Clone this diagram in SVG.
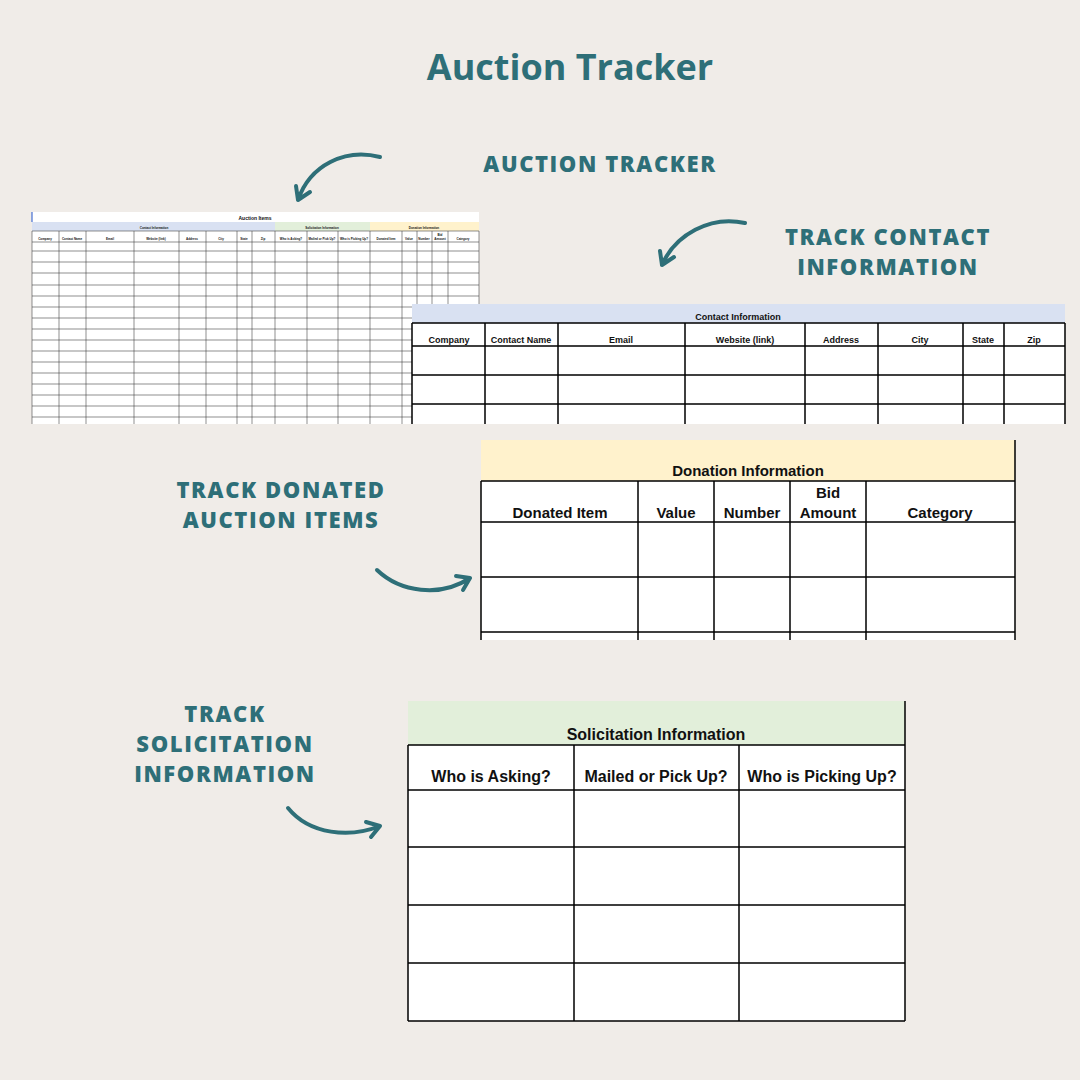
<svg xmlns="http://www.w3.org/2000/svg" width="1080" height="1080" viewBox="0 0 1080 1080">
<style>
.lbl{font-family:"Open Sans","Liberation Sans",sans-serif;font-weight:800;fill:#2e6f78;font-size:22px;letter-spacing:1.6px;text-anchor:middle}
.arr{fill:none;stroke:#2e6f78;stroke-width:4;stroke-linecap:round;stroke-linejoin:round}
.g{stroke:#000;stroke-width:1.5;fill:none}
.gs{stroke:#444;stroke-width:0.6;fill:none}
.h{font-family:"Liberation Sans",Arial,sans-serif;font-weight:bold;fill:#111;text-anchor:middle}
</style>
<rect width="1080" height="1080" fill="#f0ece8"/>
<text x="570" y="80" font-family="Open Sans,Liberation Sans,sans-serif" font-weight="bold" font-size="36" fill="#2e6f78" text-anchor="middle">Auction Tracker</text>

<g id="labels">
<text class="lbl" x="600" y="172">AUCTION TRACKER</text>
<text class="lbl" x="888" y="245">TRACK CONTACT</text>
<text class="lbl" x="888" y="275">INFORMATION</text>
<text class="lbl" x="281" y="498">TRACK DONATED</text>
<text class="lbl" x="281" y="528">AUCTION ITEMS</text>
<text class="lbl" x="225" y="722">TRACK</text>
<text class="lbl" x="225" y="752">SOLICITATION</text>
<text class="lbl" x="225" y="782">INFORMATION</text>
</g>

<g id="connectors">
<path class="arr" d="M380,157 C345,148 310,165 298,200 M298,200 L296,186 M298,200 L310,192"/>
<path class="arr" d="M745,223 C710,215 675,235 662,265 M662,265 L660,251 M662,265 L674,257"/>
<path class="arr" d="M377,570 C400,592 440,598 470,578 M470,578 L456,576 M470,578 L463,590"/>
<path class="arr" d="M288,808 C310,835 350,838 380,826 M380,826 L366,822 M380,826 L371,837"/>
</g>

<g id="sheet-all">
<rect x="32" y="212" width="447" height="212" fill="#fff"/>
<rect x="32" y="222" width="243" height="9" fill="#d9e1f2"/>
<rect x="275" y="222" width="95" height="9" fill="#e2efda"/>
<rect x="370" y="222" width="109" height="9" fill="#fff2cc"/>
<line x1="32" y1="212" x2="32" y2="222" stroke="#2255cc" stroke-width="1"/>
<text class="h" x="255" y="220" font-size="5" font-weight="normal">Auction Items</text>
<g font-size="3" class="h" font-weight="normal">
<text x="154" y="229">Contact Information</text><text x="322" y="229">Solicitation Information</text><text x="424" y="229">Donation Information</text>
<text x="45" y="240">Company</text><text x="72" y="240">Contact Name</text><text x="110" y="240">Email</text><text x="156" y="240">Website (link)</text><text x="192" y="240">Address</text><text x="221" y="240">City</text><text x="244" y="240">State</text><text x="263" y="240">Zip</text><text x="291" y="240">Who is Asking?</text><text x="322" y="240">Mailed or Pick Up?</text><text x="354" y="240">Who is Picking Up?</text><text x="386" y="240">Donated Item</text><text x="409" y="240">Value</text><text x="424" y="240">Number</text><text x="440" y="236">Bid</text><text x="440" y="240">Amount</text><text x="463" y="240">Category</text>
</g>
<g class="gs">
<path d="M32,231H479M32,242H479M32,251H479M32,262H479M32,273H479M32,285H479M32,296H479M32,307H479M32,318H479M32,329H479M32,340H479M32,351H479M32,362H479M32,373H479M32,384H479M32,395H479M32,406H479M32,417H479"/>
<path d="M32,231V424M59,231V424M86,231V424M134,231V424M179,231V424M206,231V424M237,231V424M252,231V424M275,231V424M307,231V424M338,231V424M370,231V424M402,231V424M417,231V424M432,231V424M448,231V424M479,231V424"/>
</g>
</g>

<g id="sheet-contact">
<rect x="412" y="304" width="653" height="120" fill="#fff"/>
<rect x="412" y="304" width="653" height="19" fill="#d9e1f2"/>
<text class="h" x="738" y="320" font-size="9">Contact Information</text>
<g class="h" font-size="9">
<text x="449" y="343">Company</text><text x="521" y="343">Contact Name</text><text x="621" y="343">Email</text><text x="745" y="343">Website (link)</text><text x="841" y="343">Address</text><text x="920" y="343">City</text><text x="983" y="343">State</text><text x="1034" y="343">Zip</text>
</g>
<g class="g">
<path d="M412,323H1065M412,346H1065M412,375H1065M412,404H1065"/>
<path d="M412,323V424M485,323V424M558,323V424M685,323V424M805,323V424M878,323V424M963,323V424M1004,323V424M1065,323V424"/>
</g>
</g>

<g id="sheet-donation">
<rect x="481" y="440" width="534" height="200" fill="#fff"/>
<rect x="481" y="440" width="534" height="41" fill="#fff2cc"/>
<text class="h" x="748" y="476" font-size="15">Donation Information</text>
<g class="h" font-size="15">
<text x="560" y="518">Donated Item</text><text x="676" y="518">Value</text><text x="752" y="518">Number</text><text x="828" y="498">Bid</text><text x="828" y="518">Amount</text><text x="940" y="518">Category</text>
</g>
<g class="g" stroke-width="2">
<path d="M481,481H1015M481,522H1015M481,577H1015M481,632H1015"/>
<path d="M481,481V640M638,481V640M714,481V640M790,481V640M866,481V640M1015,440V640"/>
</g>
</g>

<g id="sheet-solicitation">
<rect x="408" y="701" width="497" height="320" fill="#fff"/>
<rect x="408" y="701" width="497" height="44" fill="#e2efda"/>
<text class="h" x="656" y="740" font-size="16">Solicitation Information</text>
<g class="h" font-size="16">
<text x="491" y="782">Who is Asking?</text><text x="656" y="782">Mailed or Pick Up?</text><text x="822" y="782">Who is Picking Up?</text>
</g>
<g class="g" stroke-width="2">
<path d="M408,745H905M408,790H905M408,847H905M408,905H905M408,963H905M408,1021H905"/>
<path d="M408,745V1021M574,745V1021M739,745V1021M905,701V1021"/>
</g>
</g>
</svg>
